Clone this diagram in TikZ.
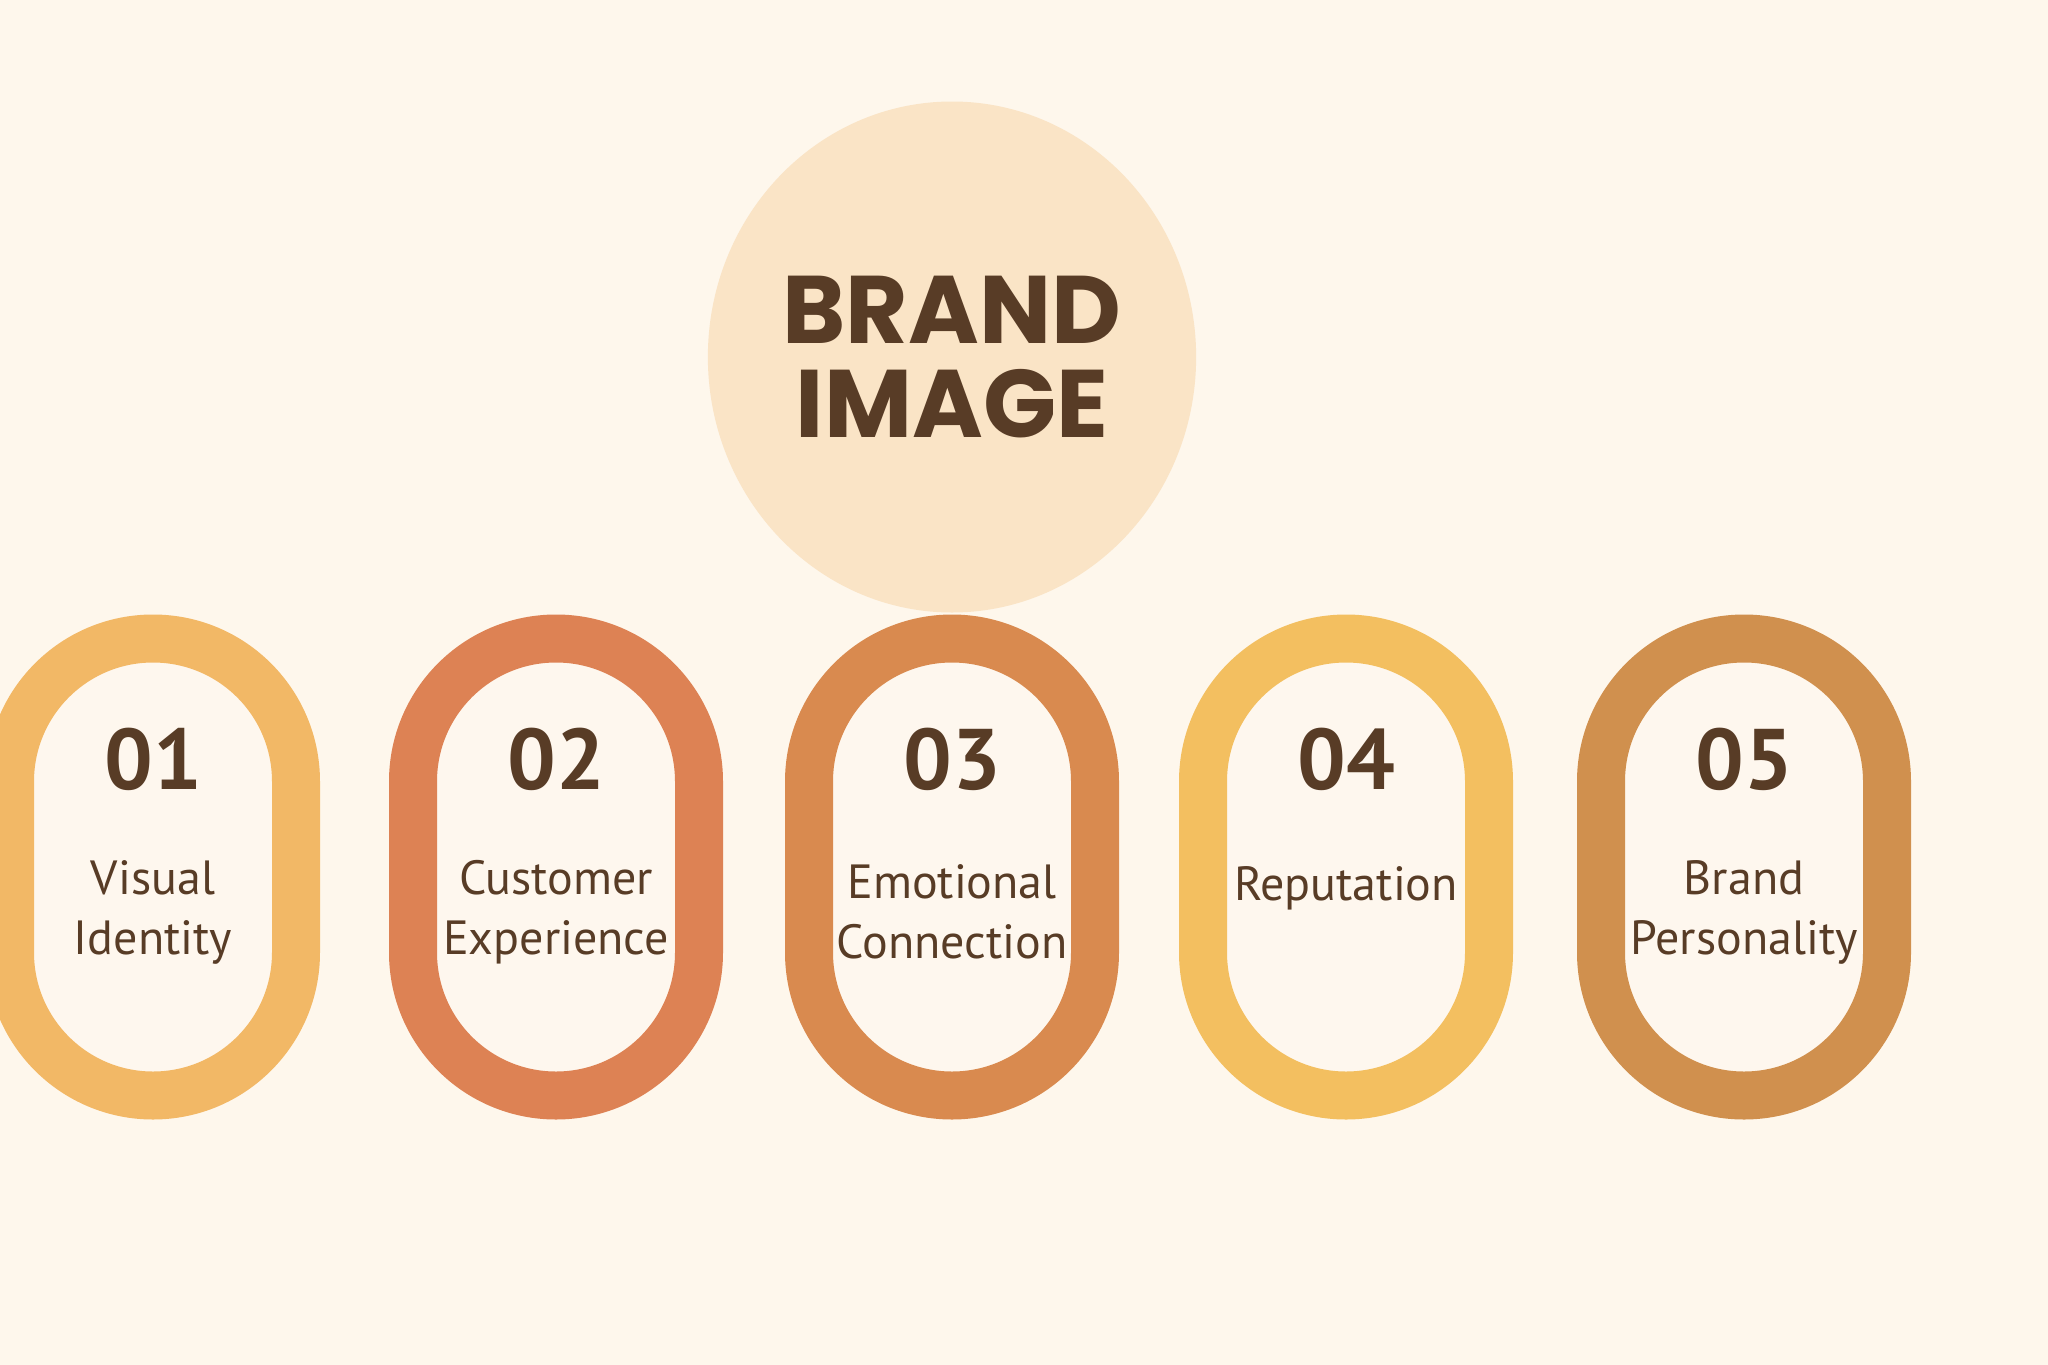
\documentclass[tikz,border=0pt]{standalone}
\usepackage{fontspec}
\setmainfont{PT Sans}
\newfontfamily\titlefont{Poppins}
\usepackage{tikz}
\usetikzlibrary{shapes.geometric}

\definecolor{bgcream}{HTML}{FEF7EC}
\definecolor{hubfill}{HTML}{FAE4C6}
\definecolor{innerfill}{HTML}{FEF7EE}
\definecolor{inkbrown}{HTML}{583C26}
\definecolor{ringA}{HTML}{F2B866}
\definecolor{ringB}{HTML}{DD8254}
\definecolor{ringC}{HTML}{D98A4F}
\definecolor{ringD}{HTML}{F3BF60}
\definecolor{ringE}{HTML}{D0904E}

\tikzset{
    pill/.style={rectangle, rounded corners=143pt, minimum width=286pt, minimum height=457pt, line width=48pt, fill=innerfill},
    num/.style={text=inkbrown, font=\bfseries\fontsize{86}{86}\selectfont},
    lbl/.style={text=inkbrown, align=center, font=\fontsize{48}{60}\selectfont},
}

\begin{document}
\begin{tikzpicture}[x=1pt, y=-1pt]
    \fill[bgcream] (0,0) rectangle (2048,1365);
    \useasboundingbox (0,0) rectangle (2048,1365);
    \node[ellipse, fill=hubfill, minimum width=484pt, minimum height=511pt, align=center, text=inkbrown,
        font=\titlefont\bfseries\fontsize{96}{94}\selectfont] (hub) at (952,357) {BRAND\\IMAGE};
    \foreach \i/\x/\c/\n/\ly/\t in {1/153/ringA/01/912/{Visual\\Identity},
                                  2/556/ringB/02/912/{Customer\\Experience},
                                  3/952/ringC/03/912/{Emotional\\Connection},
                                  4/1346/ringD/04/888/{Reputation},
                                  5/1744/ringE/05/912/{Brand\\Personality}} {
        \node[pill, draw=\c] (p\i) at (\x,867) {};
        \node[num] (n\i) at (\x,759) {\n};
        \node[lbl] (t\i) at (\x,\ly) {\t};
    }
\end{tikzpicture}
\end{document}
